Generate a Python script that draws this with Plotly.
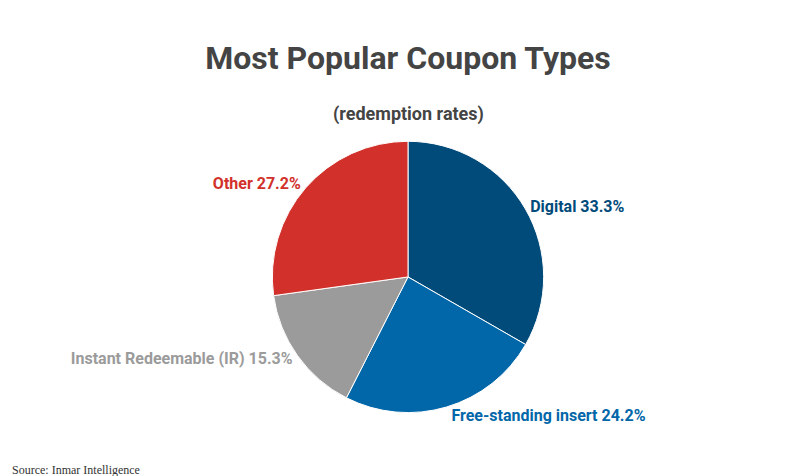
import plotly.graph_objects as go

labels = ["Digital", "Free-standing insert", "Instant Redeemable (IR)", "Other"]
values = [33.3, 24.2, 15.3, 27.2]
colors = ["#004b7a", "#0267a9", "#9b9b9b", "#d2312b"]

fig = go.Figure(go.Pie(
    labels=labels,
    values=values,
    sort=False,
    direction="clockwise",
    rotation=0,
    marker=dict(colors=colors, line=dict(color="white", width=1)),
    textposition="outside",
    texttemplate="<b>%{label} %{value}%</b>",
    outsidetextfont=dict(family="Roboto", size=16, color=colors),
    hoverinfo="label+value",
    showlegend=False,
    automargin=False,
    domain=dict(x=[0.2, 0.8], y=[0.15, 0.72]),
))

fig.update_layout(
    width=800, height=476,
    paper_bgcolor="white",
    margin=dict(l=0, r=0, t=0, b=0, autoexpand=False),
    title=dict(text="<b>Most Popular Coupon Types</b>", x=0.5, y=0.895,
               xanchor="center", yanchor="middle",
               font=dict(family="Roboto", size=32, color="#444444")),
    annotations=[
        dict(text="<b>(redemption rates)</b>", x=0.5, y=0.805, xref="paper", yref="paper",
             showarrow=False, font=dict(family="Roboto", size=18, color="#444444")),
        dict(text="Source: Inmar Intelligence", x=0.003, y=0.01, xref="paper", yref="paper",
             xanchor="left", yanchor="bottom", showarrow=False,
             font=dict(family="Liberation Serif", size=12, color="#333333")),
    ],
)

fig.write_html("out.html")
